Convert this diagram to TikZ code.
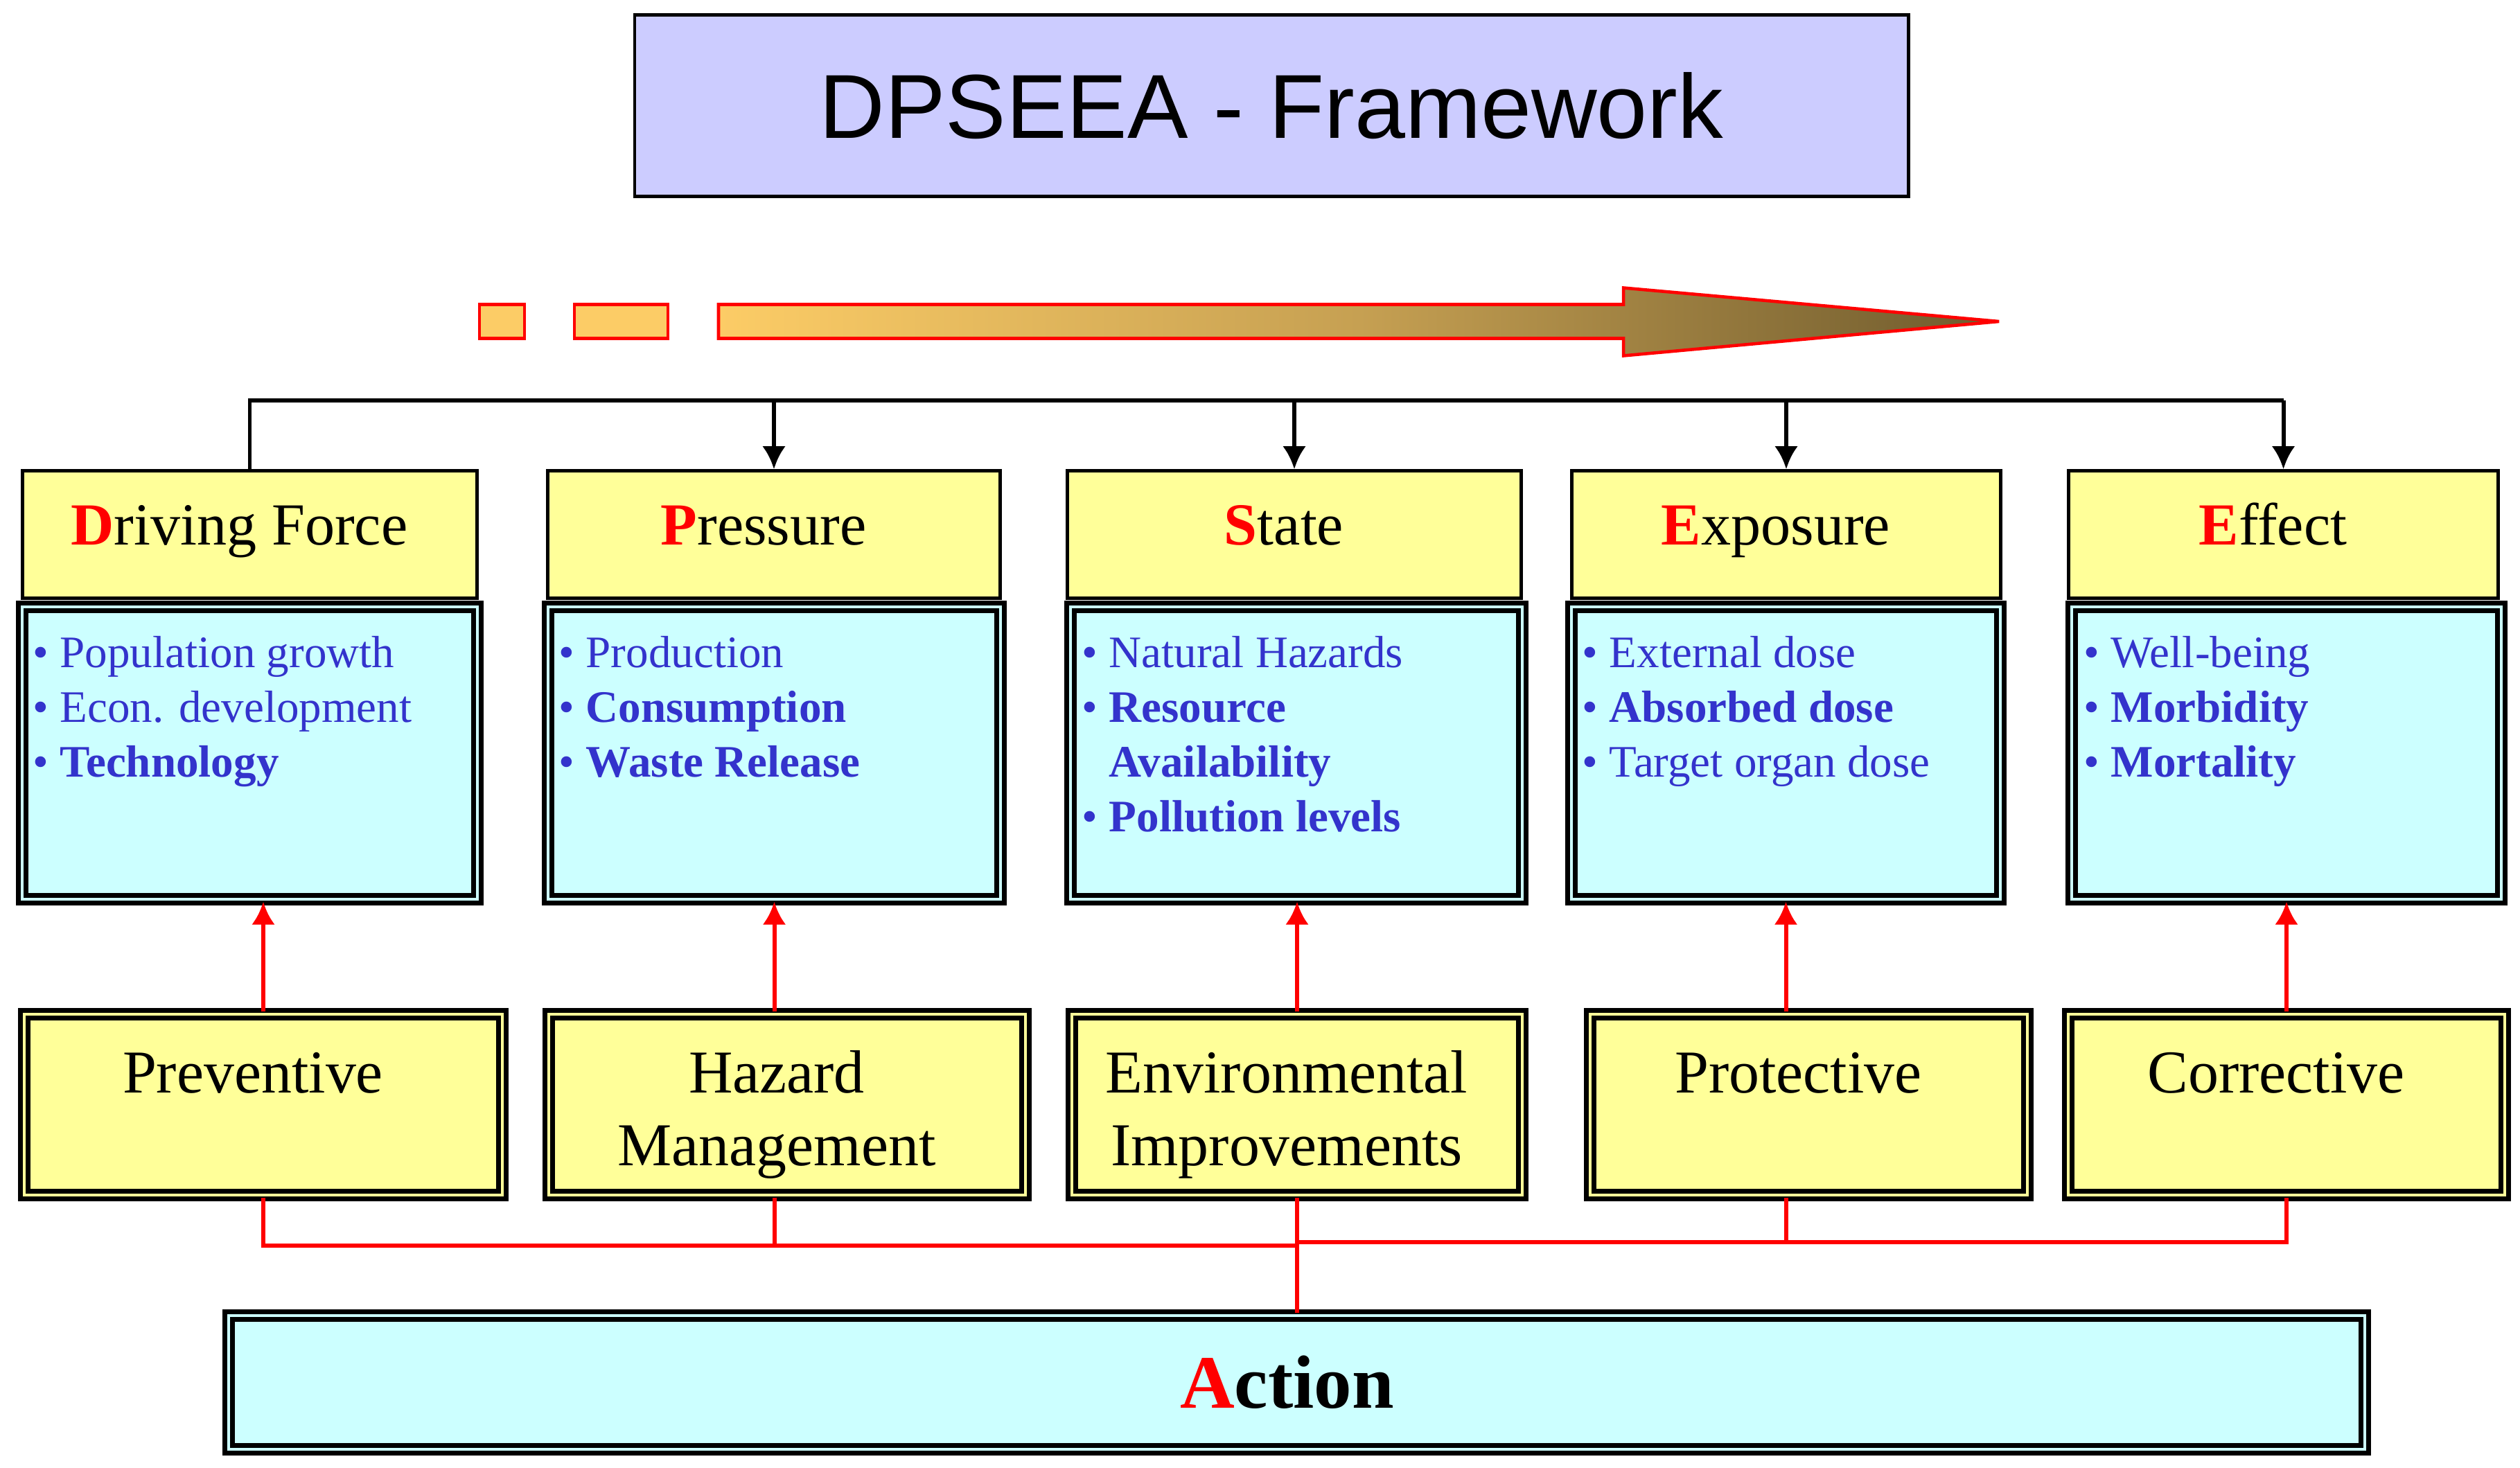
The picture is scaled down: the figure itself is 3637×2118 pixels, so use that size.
\documentclass[tikz,border=0pt]{standalone}
\usepackage{fontspec}
\setmainfont{Liberation Serif}
\newfontfamily\titlefont{Liberation Sans}
\usetikzlibrary{arrows.meta}

\definecolor{headyellow}{HTML}{FFFF99}
\definecolor{listcyan}{HTML}{CCFFFF}
\definecolor{titleblue}{HTML}{CCCCFF}
\definecolor{itemblue}{HTML}{3333CC}
\definecolor{arrowlight}{HTML}{FCCC66}
\definecolor{arrowmid}{HTML}{C6A052}
\definecolor{arrowdark}{HTML}{6E5A2D}

\newcommand{\redcap}[1]{{\color{red}\bfseries #1}}

\begin{document}
\begin{tikzpicture}[x=0.01cm, y=-0.01cm,
    head/.style={draw, line width=1.3pt, fill=headyellow, inner sep=0pt,
        minimum height=1.84cm, font=\fontsize{24.5}{30}\selectfont,
        text height=0.58cm, text depth=0.29cm,
        execute at end node=\hspace*{0.3cm}},
    listbox/.style={draw, line width=2pt, fill=listcyan, double=listcyan,
        double distance=1.1pt, inner sep=0pt, minimum height=4.22cm},
    listtext/.style={anchor=base west, inner sep=0pt, text=itemblue,
        font=\fontsize{18.5}{22.5}\selectfont},
    respbox/.style={draw, line width=2pt, fill=headyellow, double=headyellow,
        double distance=1.1pt, inner sep=0pt, minimum height=2.61cm,
        font=\fontsize{25}{29.9}\selectfont, text height=0.6cm, text depth=0.95cm,
        execute at end node=\hspace*{0.3cm}},
    busline/.style={line width=1.7pt},
    busarrow/.style={line width=1.7pt, -{Latex[length=9.4pt,width=9.6pt]}},
    redline/.style={draw=red, line width=1.7pt},
    redarrow/.style={draw=red, line width=1.7pt, -{Latex[length=9.4pt,width=9.6pt]}}]

\useasboundingbox (0,0) rectangle (3637,2118);

\node[draw, line width=1.4pt, fill=titleblue, minimum width=18.37cm,
    minimum height=2.62cm, font=\titlefont\fontsize{37.3}{44}\selectfont]
    (T) at (1835,152.5) {DPSEEA - Framework};

% progress arrow
\draw[draw=red, line width=1.3pt, fill=arrowlight] (692,439.5) rectangle (757,488.5);
\draw[draw=red, line width=1.3pt, fill=arrowlight] (829,439.5) rectangle (964,488.5);
\draw[draw=red, line width=1.3pt, left color=arrowlight, right color=arrowdark,
    middle color=arrowmid]
    (1037,439.5) -- (2343,439.5) -- (2343,415.5) -- (2885,464)
    -- (2343,513.5) -- (2343,488.5) -- (1037,488.5) -- cycle;

\node[head, minimum width=6.56cm] (11) at (360.5,771.5) {\redcap{D}riving Force};
\node[head, minimum width=6.53cm] (21) at (1117,771.5) {\redcap{P}ressure};
\node[head, minimum width=6.55cm] (31) at (1868,771.5) {\redcap{S}tate};
\node[head, minimum width=6.19cm] (41) at (2578,771.5) {\redcap{E}xposure};
\node[head, minimum width=6.20cm] (51) at (3295.5,771.5) {\redcap{E}ffect};

\node[listbox, minimum width=6.57cm] (12) at (360.5,1087) {};
\node[listbox, minimum width=6.53cm] (22) at (1117.5,1087) {};
\node[listbox, minimum width=6.52cm] (32) at (1871,1087) {};
\node[listbox, minimum width=6.19cm] (42) at (2577.5,1087) {};
\node[listbox, minimum width=6.20cm] (52) at (3300,1087) {};

\node[listtext] (t1) at (47,963) {\parbox[t]{6cm}{\textbullet\ Population growth\\
    \textbullet\ Econ. development\\\textbullet\ \textbf{Technology}}};
\node[listtext] (t2) at (806,963) {\parbox[t]{6cm}{\textbullet\ Production\\
    \textbullet\ \textbf{Consumption}\\\textbullet\ \textbf{Waste Release}}};
\node[listtext] (t3) at (1561,963) {\parbox[t]{6cm}{\textbullet\ Natural Hazards\\
    \textbullet\ \textbf{Resource}\\\phantom{\textbullet\ }\textbf{Availability}\\
    \textbullet\ \textbf{Pollution levels}}};
\node[listtext] (t4) at (2283,963) {\parbox[t]{6cm}{\textbullet\ External dose\\
    \textbullet\ \textbf{Absorbed dose}\\\textbullet\ Target organ dose}};
\node[listtext] (t5) at (3007,963) {\parbox[t]{6cm}{\textbullet\ Well-being\\
    \textbullet\ \textbf{Morbidity}\\\textbullet\ \textbf{Mortality}}};

\node[respbox, minimum width=6.90cm] (13) at (380,1594.5)
    {\parbox[t]{6cm}{\centering Preventive}};
\node[respbox, minimum width=6.88cm] (23) at (1136,1594.5)
    {\parbox[t]{6cm}{\centering Hazard\\Management}};
\node[respbox, minimum width=6.50cm] (33) at (1872,1594.5)
    {\parbox[t]{6cm}{\centering Environmental\\Improvements}};
\node[respbox, minimum width=6.19cm] (43) at (2610.5,1594.5)
    {\parbox[t]{6cm}{\centering Protective}};
\node[respbox, minimum width=6.20cm] (53) at (3300,1594.5)
    {\parbox[t]{6cm}{\centering Corrective}};

\node[draw, line width=2pt, fill=listcyan, double=listcyan, double distance=1.1pt,
    inner sep=0pt, minimum width=30.81cm, minimum height=1.93cm,
    font=\fontsize{31}{37}\selectfont, execute at end node=\hspace*{0.28cm}]
    (A) at (1871.5,1995.5) {\redcap{A}\textbf{ction}};

\coordinate (top) at (0,578);
\coordinate (low) at (0,1798);
\coordinate (low2) at (0,1793);

\draw[busline] (11.north) -- (11.north |- top) -- (51.north |- top);
\draw[busarrow] (21.north |- top) -- (21.north);
\draw[busarrow] (31.north |- top) -- (31.north);
\draw[busarrow] (41.north |- top) -- (41.north);
\draw[busarrow] (51.north |- top) -- (51.north);

\draw[redarrow] (13.north) -- (13.north |- 12.south);
\draw[redarrow] (22.south |- 23.north) -- (22.south);
\draw[redarrow] (33.north) -- (33.north |- 32.south);
\draw[redarrow] (42.south |- 43.north) -- (42.south);
\draw[redarrow] (52.south |- 53.north) -- (52.south);

\draw[redline] (13.south) -- (13.south |- low) -- (33.south |- low);
\draw[redline] (22.south |- 23.south) -- (22.south |- low);
\draw[redline] (33.south |- low2) -- (53.south |- low2) -- (53.south);
\draw[redline] (42.south |- 43.south) -- (42.south |- low2);
\draw[redline] (33.south) -- (33.south |- A.north);

\end{tikzpicture}
\end{document}
